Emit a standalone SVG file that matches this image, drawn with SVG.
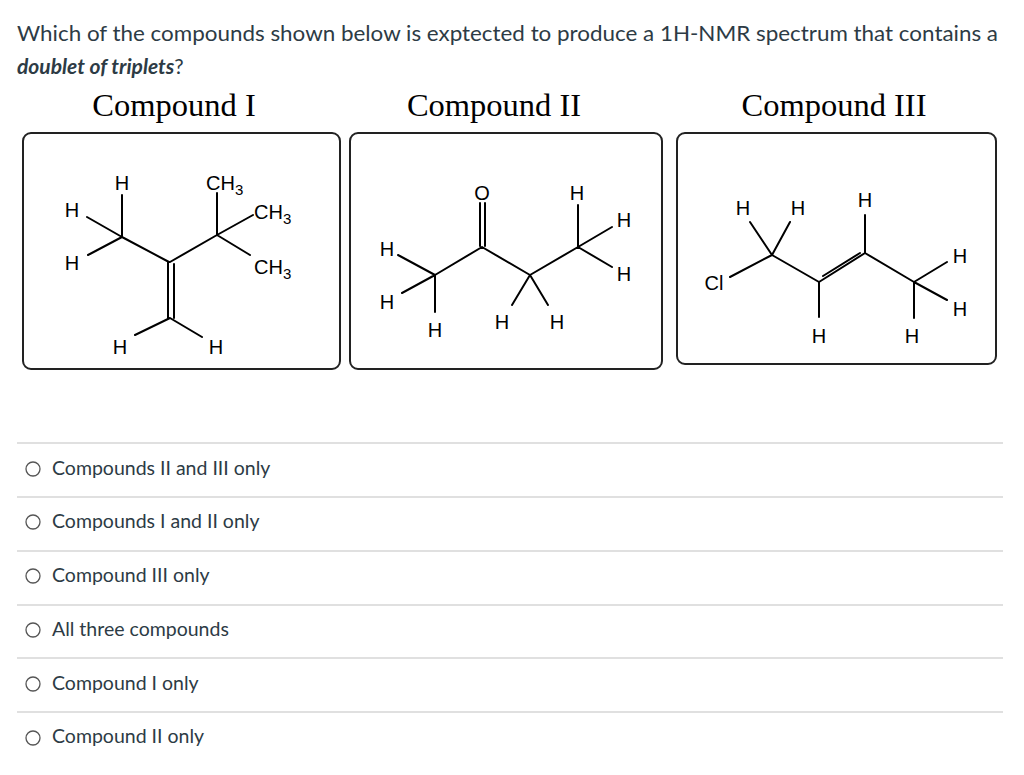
<svg xmlns="http://www.w3.org/2000/svg" width="1024" height="775" viewBox="0 0 1024 775">
<style>
.q{font-family:Lato,"Liberation Sans",sans-serif;font-size:21px;fill:#2d3b45}
.t{font-family:"Liberation Serif",serif;font-size:32.5px;fill:#000;text-anchor:middle}
.a{font-family:"Liberation Sans",Arial,sans-serif;font-size:20px;fill:#000;text-anchor:middle}
.al{font-family:"Liberation Sans",Arial,sans-serif;font-size:20px;fill:#000}
.box{fill:#fff;stroke:#222;stroke-width:2}
.b{stroke:#000;stroke-width:2;fill:none;stroke-linecap:round}
.sep{stroke:#d6d6d6;stroke-width:1.3}
.rc{fill:#fff;stroke:#555;stroke-width:1.3}
.o{font-family:Lato,"Liberation Sans",sans-serif;font-size:19.5px;fill:#2d3b45}
</style>
<rect width="1024" height="775" fill="#fff"/>
<text class="q" x="17" y="41" textLength="981" lengthAdjust="spacingAndGlyphs">Which of the compounds shown below is exptected to produce a 1H-NMR spectrum that contains a</text>
<text class="q" x="17" y="74"><tspan font-weight="bold" font-style="italic">doublet of triplets</tspan>?</text>
<text class="t" x="174" y="116">Compound I</text>
<text class="t" x="494" y="116">Compound II</text>
<text class="t" x="834" y="116">Compound III</text>

<g id="compound1">
<rect class="box" x="23" y="133" width="317" height="236" rx="8"/>
<path class="b" d="M122,195 L122,237 M87,217 L122,237 M88,255 L122,237 M122,237 L169,262 M168,262 L168,318 M174,264 L174,318 M170,318 L135,335 M170,318 L202,337 M170,262 L217,235 M217,235 L217,193 M217,235 L253,215 M217,235 L250,255"/>
<text class="a" x="122" y="190">H</text>
<text class="a" x="72" y="217">H</text>
<text class="a" x="72" y="270">H</text>
<text class="a" x="120" y="354">H</text>
<text class="a" x="216" y="354">H</text>
<text class="al" x="206" y="190">CH<tspan font-size="15" dy="5">3</tspan></text>
<text class="al" x="254" y="219">CH<tspan font-size="15" dy="5">3</tspan></text>
<text class="al" x="254" y="274">CH<tspan font-size="15" dy="5">3</tspan></text>
</g>

<g id="compound2">
<rect class="box" x="350" y="133" width="312" height="236" rx="8"/>
<path class="b" d="M480,203 L480,246 M485,203 L485,246 M482,247 L435,275 M435,275 L398,255 M435,275 L402,293 M435,275 L435,312 M482,247 L530,275 M530,275 L512,305 M530,275 L548,305 M530,275 L578,247 M578,247 L578,205 M578,247 L612,227 M578,247 L612,267"/>
<text class="a" x="482" y="200">O</text>
<text class="a" x="387" y="256">H</text>
<text class="a" x="387" y="309">H</text>
<text class="a" x="435" y="337">H</text>
<text class="a" x="502" y="329">H</text>
<text class="a" x="557" y="329">H</text>
<text class="a" x="577" y="200">H</text>
<text class="a" x="624" y="227">H</text>
<text class="a" x="624" y="281">H</text>
</g>

<g id="compound3">
<rect class="box" x="677" y="133" width="319" height="231" rx="8"/>
<path class="b" d="M730,277 L772,255 M772,255 L750,222 M772,255 L790,222 M772,255 L819,282 M819,282 L865,253 M823,276 L860,253 M819,282 L819,317 M865,253 L865,215 M865,253 L914,282 M914,282 L947,262 M914,282 L947,300 M914,282 L914,318"/>
<text class="a" x="714" y="290">Cl</text>
<text class="a" x="743" y="215">H</text>
<text class="a" x="798" y="215">H</text>
<text class="a" x="865" y="207">H</text>
<text class="a" x="819" y="343">H</text>
<text class="a" x="960" y="263">H</text>
<text class="a" x="960" y="316">H</text>
<text class="a" x="912" y="343">H</text>
</g>

<g id="options">
<line class="sep" x1="17" y1="443" x2="1003" y2="443"/>
<line class="sep" x1="17" y1="497" x2="1003" y2="497"/>
<line class="sep" x1="17" y1="551" x2="1003" y2="551"/>
<line class="sep" x1="17" y1="605" x2="1003" y2="605"/>
<line class="sep" x1="17" y1="658" x2="1003" y2="658"/>
<line class="sep" x1="17" y1="712" x2="1003" y2="712"/>
<circle class="rc" cx="33" cy="469" r="7"/>
<circle class="rc" cx="33" cy="522" r="7"/>
<circle class="rc" cx="33" cy="576" r="7"/>
<circle class="rc" cx="33" cy="630" r="7"/>
<circle class="rc" cx="33" cy="684" r="7"/>
<circle class="rc" cx="33" cy="738" r="7"/>
<text class="o" x="52" y="475">Compounds II and III only</text>
<text class="o" x="52" y="528">Compounds I and II only</text>
<text class="o" x="52" y="582">Compound III only</text>
<text class="o" x="52" y="636">All three compounds</text>
<text class="o" x="52" y="690">Compound I only</text>
<text class="o" x="52" y="743">Compound II only</text>
</g>
</svg>
